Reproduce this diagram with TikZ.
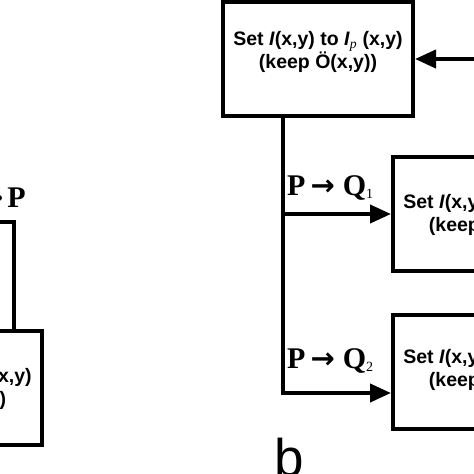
\documentclass[tikz,border=0pt]{standalone}
\usepackage{fontspec}
\setmainfont{Liberation Sans}
\newfontfamily\serifbf{Liberation Serif}
\newfontfamily\arrowfont{DejaVu Sans}
\usetikzlibrary{arrows.meta}
\begin{document}
\begin{tikzpicture}[x=1pt,y=-1pt,
  box/.style={draw, line width=4pt, minimum width=190pt, minimum height=114pt, inner sep=0pt},
  lbl/.style={font=\fontsize{19.5}{22}\selectfont\bfseries, align=center, inner sep=0pt},
  rel/.style={font=\serifbf\fontsize{30}{30}\selectfont\bfseries, inner sep=0pt},
  conn/.style={line width=4pt},
  arr/.style={conn, -{Triangle[length=21pt,width=18pt]}},
]
\newcommand\relarrow{{\arrowfont\bfseries\fontsize{29}{29}\selectfont →}}
\useasboundingbox (0,0) rectangle (474,474);
\clip (0,0) rectangle (474,474);

% boxes
\node[box] (top) at (318,59) {};
\node[lbl] (toptext) at (318,52) {Set \textit{I}(x,y) to \textit{I}\textsubscript{\serifbf\mdseries\itshape p} (x,y)\\(keep Ö(x,y))};

\node[box] (q1) at (488,214) {};
\node[lbl] (q1text) at (488,215) {Set \textit{I}(x,y) to \textit{I}\textsubscript{\serifbf\mdseries\itshape q} (x,y)\\(keep Ö(x,y))};

\node[box] (q2) at (488,372) {};
\node[lbl] (q2text) at (488,370) {Set \textit{I}(x,y) to \textit{I}\textsubscript{\serifbf\mdseries\itshape q} (x,y)\\(keep Ö(x,y))};

\node[box, line width=3.3pt] (lb) at (-53,388) {};
\node[lbl] (lbtext) at (-53,389) {Set \textit{I}(x,y) to \textit{I}\textsubscript{\serifbf\mdseries\itshape p} (x,y)\\(keep Ö(x,y))};

% connectors
\coordinate (inR) at (480,59);
\draw[arr] (inR) -- (top.east);

\coordinate (trunk) at (283,116);
\draw[arr] (trunk) |- ([yshift=-21pt]q2.west);
\draw[arr] (trunk |- q1.west) -- (q1.west);

\coordinate (lstart) at (-5,222);
\coordinate (lcorner) at (14,222);
\draw[line width=3.3pt] (lstart) -- (lcorner) -- (lcorner |- lb.north);

% relation labels
\node[rel, anchor=base west] (r1) at (287,195) {P\hspace{5pt}\relarrow\hspace{8pt}Q\raisebox{-3pt}{\fontsize{14}{14}\selectfont\mdseries 1}};
\node[rel, anchor=base west] (r2) at (287,368) {P\hspace{5pt}\relarrow\hspace{8pt}Q\raisebox{-3pt}{\fontsize{14}{14}\selectfont\mdseries 2}};
\node[rel, anchor=base east] (r0) at (26,207) {\relarrow\hspace{4pt}P};

% panel letter
\node[font=\fontsize{53}{53}\selectfont, inner sep=0pt, anchor=base west] (blabel) at (274.5,476) {b};
\end{tikzpicture}
\end{document}
